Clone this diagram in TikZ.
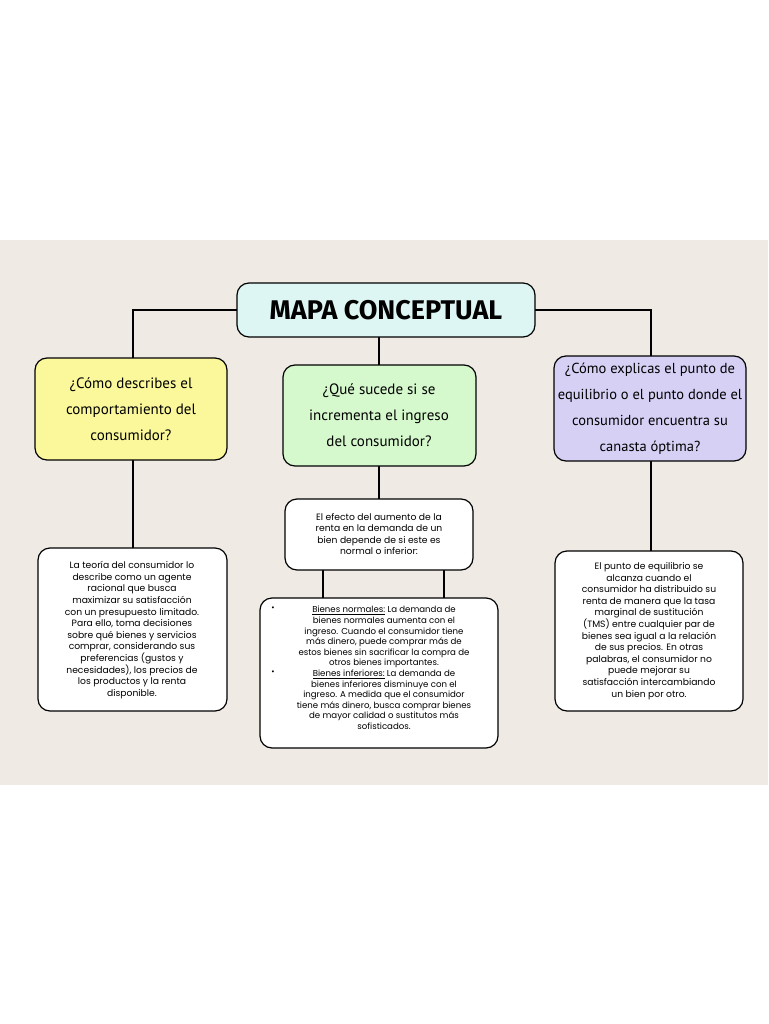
\documentclass[tikz,border=0pt]{standalone}
\usepackage{fontspec}
\setmainfont{Poppins}
\newfontfamily\headfont{PT Sans}
\newfontfamily\titlefont{Fira Sans}
\newcommand\myul[1]{\underline{#1}}
\definecolor{bg}{HTML}{EFEBE4}
\definecolor{tcyan}{HTML}{DDF6F3}
\definecolor{tyel}{HTML}{FBF89B}
\definecolor{tgreen}{HTML}{D5F9CC}
\definecolor{tlav}{HTML}{D6D0F5}
\begin{document}
\begin{tikzpicture}[x=1pt,y=-1pt,
  box/.style={draw=black,line width=1.2pt,rounded corners=12pt},
  head/.style={align=center,font=\headfont\fontsize{15}{26}\selectfont},
  body/.style={align=center,font=\fontsize{9.2}{11.6}\selectfont},
  ln/.style={line width=1.2pt}]
\useasboundingbox (0,0) rectangle (768,1024);
\fill[white] (0,0) rectangle (768,1024);
\fill[bg] (0,240) rectangle (768,785);
% connectors
\coordinate (l1) at (133,310); \coordinate (r1) at (651,310);
\draw[ln] (237,310) -- (l1) -- (133,358);
\draw[ln] (535,310) -- (r1) -- (651,356);
\draw[ln] (379,337) -- (379,365);
\draw[ln] (133,460) -- (133,548);
\draw[ln] (379,466) -- (379,499);
\draw[ln] (323,570) -- (323,598);
\draw[ln] (444,570) -- (444,598);
\draw[ln] (651,461) -- (651,551);
% boxes
\draw[box,fill=tcyan] (237,283) rectangle (535,337);
\node (t) at (386,310) {\titlefont\bfseries\fontsize{27}{30}\selectfont MAPA CONCEPTUAL};
\draw[box,fill=tyel] (35,358) rectangle (227,460);
\node[head] (q1) at (131,409) {¿Cómo describes el\\comportamiento del\\consumidor?};
\draw[box,fill=tgreen] (283,365) rectangle (476,466);
\node[head] (q2) at (379,415) {¿Qué sucede si se\\incrementa el ingreso\\del consumidor?};
\draw[box,fill=tlav] (554,356) rectangle (746,461);
\node[head,font=\headfont\fontsize{14.5}{26}\selectfont] (q3) at (650,409) {¿Cómo explicas el punto de\\equilibrio o el punto donde el\\consumidor encuentra su\\canasta óptima?};
\draw[box,fill=white] (38,548) rectangle (227,711);
\node[body] (a1) at (132,630) {La teoría del consumidor lo\\describe como un agente\\racional que busca\\maximizar su satisfacción\\con un presupuesto limitado.\\Para ello, toma decisiones\\sobre qué bienes y servicios\\comprar, considerando sus\\preferencias (gustos y\\necesidades), los precios de\\los productos y la renta\\disponible.};
\draw[box,fill=white] (285,499) rectangle (473,570);
\node[body] (a2) at (379,534) {El efecto del aumento de la\\renta en la demanda de un\\bien depende de si este es\\normal o inferior:};
\draw[box,fill=white] (260,598) rectangle (498,748);
\node[body,font=\fontsize{8.6}{10.6}\selectfont] (a3) at (384,668) {\myul{Bienes normales:} La demanda de\\bienes normales aumenta con el\\ingreso. Cuando el consumidor tiene\\más dinero, puede comprar más de\\estos bienes sin sacrificar la compra de\\otros bienes importantes.\\\myul{Bienes inferiores:} La demanda de\\bienes inferiores disminuye con el\\ingreso. A medida que el consumidor\\tiene más dinero, busca comprar bienes\\de mayor calidad o sustitutos más\\sofisticados.};
\node[font=\fontsize{8}{10}\selectfont] (b1) at (273,609) {•};
\node[font=\fontsize{8}{10}\selectfont] (b2) at (273,673) {•};
\draw[box,fill=white] (555,551) rectangle (743,711);
\node[body] (a4) at (649,631) {El punto de equilibrio se\\alcanza cuando el\\consumidor ha distribuido su\\renta de manera que la tasa\\marginal de sustitución\\(TMS) entre cualquier par de\\bienes sea igual a la relación\\de sus precios. En otras\\palabras, el consumidor no\\puede mejorar su\\satisfacción intercambiando\\un bien por otro.};
\end{tikzpicture}
\end{document}
